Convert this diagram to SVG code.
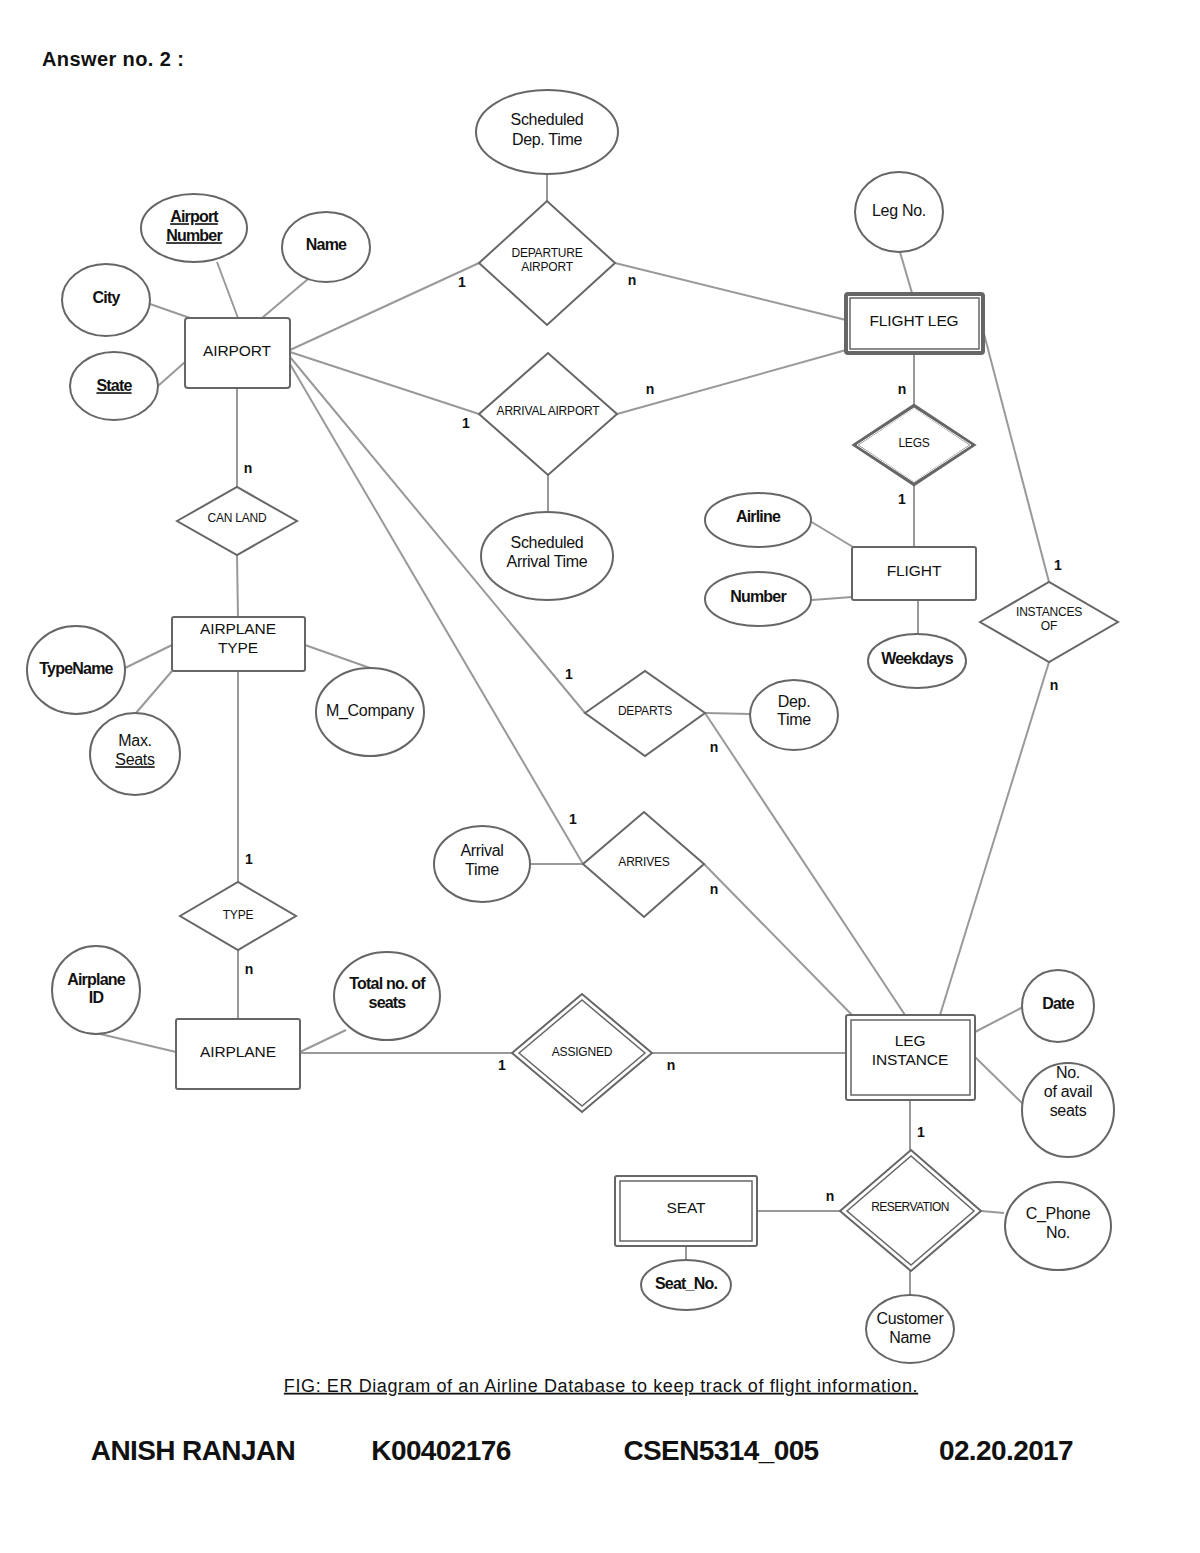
<svg xmlns="http://www.w3.org/2000/svg" width="1200" height="1553" viewBox="0 0 1200 1553">
<style>
.bg{fill:#fff}
.sh{fill:#fff;stroke:#666;stroke-width:2}
.thick{fill:#fff;stroke:#666;stroke-width:4}
.in{fill:none;stroke:#666;stroke-width:1.5}
.ln{stroke:#999;stroke-width:2;fill:none}
text{font-family:"Liberation Sans",Arial,sans-serif;fill:#111;text-anchor:middle;dominant-baseline:middle}
.e{font-size:16px;letter-spacing:-0.3px}
.eb{font-size:16px;font-weight:bold;letter-spacing:-0.8px}
.n{font-size:15.5px;letter-spacing:-0.1px}
.r{font-size:12px;letter-spacing:-0.2px}
.c{font-size:14px;font-weight:bold}
.u{text-decoration:underline}
.f{font-size:28px;font-weight:bold;letter-spacing:-0.6px}
</style>
<rect class="bg" x="0" y="0" width="1200" height="1553"/>
<text x="42" y="61" style="font-size:20px;font-weight:bold;text-anchor:start;letter-spacing:0.4px">Answer no. 2 :</text>

<g id="connectors">
<line class="ln" x1="217" y1="262" x2="238" y2="318"/>
<line class="ln" x1="308" y1="279" x2="262" y2="318"/>
<line class="ln" x1="150" y1="304" x2="190" y2="318"/>
<line class="ln" x1="158" y1="386" x2="185" y2="362"/>
<line class="ln" x1="547" y1="175" x2="547" y2="201"/>
<line class="ln" x1="290" y1="350" x2="479" y2="263"/>
<line class="ln" x1="615" y1="263" x2="846" y2="320"/>
<line class="ln" x1="290" y1="352" x2="479" y2="414"/>
<line class="ln" x1="617" y1="414" x2="846" y2="350"/>
<line class="ln" x1="548" y1="475" x2="548" y2="512"/>
<line class="ln" x1="900" y1="252" x2="912" y2="293"/>
<line class="ln" x1="914" y1="353" x2="914" y2="406"/>
<line class="ln" x1="914" y1="484" x2="914" y2="547"/>
<line class="ln" x1="810" y1="521" x2="853" y2="547"/>
<line class="ln" x1="812" y1="600" x2="852" y2="597"/>
<line class="ln" x1="918" y1="600" x2="918" y2="634"/>
<line class="ln" x1="983" y1="330" x2="1049" y2="582"/>
<line class="ln" x1="1049" y1="662" x2="940" y2="1015"/>
<line class="ln" x1="237" y1="388" x2="237" y2="487"/>
<line class="ln" x1="237" y1="555" x2="238" y2="617"/>
<line class="ln" x1="125" y1="668" x2="172" y2="645"/>
<line class="ln" x1="136" y1="713" x2="172" y2="671"/>
<line class="ln" x1="305" y1="645" x2="370" y2="668"/>
<line class="ln" x1="238" y1="671" x2="238" y2="882"/>
<line class="ln" x1="290" y1="357" x2="585" y2="713"/>
<line class="ln" x1="290" y1="364" x2="583" y2="864"/>
<line class="ln" x1="705" y1="713" x2="750" y2="714"/>
<line class="ln" x1="705" y1="713" x2="905" y2="1015"/>
<line class="ln" x1="530" y1="864" x2="583" y2="864"/>
<line class="ln" x1="704" y1="864" x2="852" y2="1015"/>
<line class="ln" x1="238" y1="950" x2="238" y2="1019"/>
<line class="ln" x1="96" y1="1033" x2="176" y2="1052"/>
<line class="ln" x1="300" y1="1052" x2="346" y2="1030"/>
<line class="ln" x1="300" y1="1053" x2="512" y2="1053"/>
<line class="ln" x1="652" y1="1053" x2="846" y2="1053"/>
<line class="ln" x1="975" y1="1032" x2="1023" y2="1007"/>
<line class="ln" x1="975" y1="1057" x2="1023" y2="1104"/>
<line class="ln" x1="910" y1="1100" x2="910" y2="1150"/>
<line class="ln" x1="757" y1="1211" x2="840" y2="1211"/>
<line class="ln" x1="981" y1="1211" x2="1004" y2="1213"/>
<line class="ln" x1="910" y1="1271" x2="910" y2="1296"/>
<line class="ln" x1="686" y1="1246" x2="686" y2="1260"/>
</g>

<g id="cardinalities">
<text class="c" x="462" y="283">1</text>
<text class="c" x="632" y="281">n</text>
<text class="c" x="466" y="424">1</text>
<text class="c" x="650" y="390">n</text>
<text class="c" x="902" y="390">n</text>
<text class="c" x="902" y="500">1</text>
<text class="c" x="1058" y="566">1</text>
<text class="c" x="1054" y="686">n</text>
<text class="c" x="248" y="469">n</text>
<text class="c" x="569" y="675">1</text>
<text class="c" x="714" y="748">n</text>
<text class="c" x="573" y="820">1</text>
<text class="c" x="714" y="890">n</text>
<text class="c" x="249" y="860">1</text>
<text class="c" x="249" y="970">n</text>
<text class="c" x="502" y="1066">1</text>
<text class="c" x="671" y="1066">n</text>
<text class="c" x="921" y="1133">1</text>
<text class="c" x="830" y="1197">n</text>
</g>

<g id="airport"><rect class="sh" x="185" y="318" width="105" height="70" rx="3"/><text class="n" x="237" y="352">AIRPORT</text></g>
<g id="airport-number"><ellipse class="sh" cx="194" cy="228" rx="53" ry="34"/><text class="eb u" x="194" y="218">Airport</text><text class="eb u" x="194" y="237">Number</text></g>
<g id="name"><ellipse class="sh" cx="326" cy="247" rx="44" ry="35"/><text class="eb" x="326" y="246">Name</text></g>
<g id="city"><ellipse class="sh" cx="106" cy="300" rx="44" ry="36"/><text class="eb" x="106" y="299">City</text></g>
<g id="state"><ellipse class="sh" cx="114" cy="386" rx="44" ry="34"/><text class="eb u" x="114" y="387">State</text></g>

<g id="sched-dep-time"><ellipse class="sh" cx="547" cy="132" rx="71" ry="42"/><text class="e" x="547" y="121">Scheduled</text><text class="e" x="547" y="141">Dep. Time</text></g>
<g id="departure-airport"><polygon class="sh" points="479,263 547,201 615,263 547,325"/><text class="r" x="547" y="254">DEPARTURE</text><text class="r" x="547" y="268">AIRPORT</text></g>
<g id="arrival-airport"><polygon class="sh" points="479,414 548,353 617,414 548,475"/><text class="r" x="548" y="412">ARRIVAL AIRPORT</text></g>
<g id="sched-arr-time"><ellipse class="sh" cx="547" cy="556" rx="66" ry="44"/><text class="e" x="547" y="544">Scheduled</text><text class="e" x="547" y="563">Arrival Time</text></g>

<g id="flight-leg"><rect class="thick" x="846" y="294" width="137" height="59" rx="2"/><rect class="in" x="850" y="298" width="129" height="51"/><text class="n" x="914" y="322">FLIGHT LEG</text></g>
<g id="leg-no"><ellipse class="sh" cx="899" cy="212" rx="44" ry="40"/><text class="e" x="899" y="212">Leg No.</text></g>
<g id="legs"><polygon class="thick" points="855,445 914,406 973,445 914,484"/><polygon class="in" style="stroke:#fff;stroke-width:1" points="857,445 914,408 971,445 914,482"/><text class="r" x="914" y="444">LEGS</text></g>
<g id="flight"><rect class="sh" x="852" y="547" width="124" height="53" rx="2"/><text class="n" x="914" y="572">FLIGHT</text></g>
<g id="airline"><ellipse class="sh" cx="758" cy="520" rx="53" ry="27"/><text class="eb" x="758" y="518">Airline</text></g>
<g id="number"><ellipse class="sh" cx="758" cy="599" rx="53" ry="27"/><text class="eb" x="758" y="598">Number</text></g>
<g id="weekdays"><ellipse class="sh" cx="917" cy="661" rx="49" ry="27"/><text class="eb" x="917" y="660">Weekdays</text></g>
<g id="instances-of"><polygon class="sh" points="980,622 1049,582 1118,622 1049,662"/><text class="r" x="1049" y="613">INSTANCES</text><text class="r" x="1049" y="627">OF</text></g>

<g id="can-land"><polygon class="sh" points="177,521 237,487 297,521 237,555"/><text class="r" x="237" y="519">CAN LAND</text></g>
<g id="airplane-type"><rect class="sh" x="172" y="617" width="133" height="54" rx="2"/><text class="n" x="238" y="630">AIRPLANE</text><text class="n" x="238" y="649">TYPE</text></g>
<g id="typename"><ellipse class="sh" cx="76" cy="670" rx="49" ry="44"/><text class="eb" x="76" y="670">TypeName</text></g>
<g id="max-seats"><ellipse class="sh" cx="135" cy="754" rx="45" ry="41"/><text class="e" x="135" y="742">Max.</text><text class="e u" x="135" y="761">Seats</text></g>
<g id="m-company"><ellipse class="sh" cx="370" cy="712" rx="54" ry="44"/><text class="e" x="370" y="712">M_Company</text></g>

<g id="departs"><polygon class="sh" points="585,713 645,671 705,713 645,756"/><text class="r" x="645" y="712">DEPARTS</text></g>
<g id="dep-time"><ellipse class="sh" cx="794" cy="715" rx="44" ry="35"/><text class="e" x="794" y="703">Dep.</text><text class="e" x="794" y="721">Time</text></g>
<g id="arrives"><polygon class="sh" points="583,864 644,812 704,864 644,917"/><text class="r" x="644" y="863">ARRIVES</text></g>
<g id="arrival-time"><ellipse class="sh" cx="482" cy="864" rx="48" ry="38"/><text class="e" x="482" y="852">Arrival</text><text class="e" x="482" y="871">Time</text></g>

<g id="type"><polygon class="sh" points="180,916 238,882 296,916 238,950"/><text class="r" x="238" y="916">TYPE</text></g>
<g id="airplane"><rect class="sh" x="176" y="1019" width="124" height="70" rx="2"/><text class="n" x="238" y="1053">AIRPLANE</text></g>
<g id="airplane-id"><ellipse class="sh" cx="96" cy="990" rx="44" ry="44"/><text class="eb" x="96" y="981">Airplane</text><text class="eb" x="96" y="999">ID</text></g>
<g id="total-seats"><ellipse class="sh" cx="387" cy="996" rx="53" ry="44"/><text class="eb" x="387" y="985">Total no. of</text><text class="eb" x="387" y="1004">seats</text></g>
<g id="assigned"><polygon class="sh" points="512,1053 582,994 652,1053 582,1112"/><polygon class="in" points="519,1053 582,1000 645,1053 582,1106"/><text class="r" x="582" y="1053">ASSIGNED</text></g>

<g id="leg-instance"><rect class="sh" x="846" y="1015" width="129" height="85" rx="2"/><rect class="in" x="851" y="1020" width="119" height="75"/><text class="n" x="910" y="1042">LEG</text><text class="n" x="910" y="1061">INSTANCE</text></g>
<g id="date"><ellipse class="sh" cx="1058" cy="1006" rx="36" ry="36"/><text class="eb" x="1058" y="1005">Date</text></g>
<g id="avail-seats"><ellipse class="sh" cx="1068" cy="1110" rx="46" ry="47"/><text class="e" x="1068" y="1074">No.</text><text class="e" x="1068" y="1093">of avail</text><text class="e" x="1068" y="1112">seats</text></g>
<g id="reservation"><polygon class="sh" points="840,1211 911,1150 981,1211 911,1271"/><polygon class="in" points="847,1211 911,1156 974,1211 911,1265"/><text class="r" x="910" y="1208" style="letter-spacing:-0.6px">RESERVATION</text></g>
<g id="seat"><rect class="sh" x="615" y="1176" width="142" height="70" rx="2"/><rect class="in" x="620" y="1181" width="132" height="60"/><text class="n" x="686" y="1209">SEAT</text></g>
<g id="seat-no"><ellipse class="sh" cx="686" cy="1285" rx="45" ry="25"/><text class="eb" x="686" y="1285">Seat_No.</text></g>
<g id="c-phone"><ellipse class="sh" cx="1058" cy="1226" rx="53" ry="44"/><text class="e" x="1058" y="1215">C_Phone</text><text class="e" x="1058" y="1234">No.</text></g>
<g id="customer-name"><ellipse class="sh" cx="910" cy="1329" rx="44" ry="34"/><text class="e" x="910" y="1320">Customer</text><text class="e" x="910" y="1339">Name</text></g>

<text class="u" x="601" y="1387" style="font-size:18px;letter-spacing:0.6px">FIG: ER Diagram of an Airline Database to keep track of flight information.</text>
<text class="f" x="193" y="1453">ANISH RANJAN</text>
<text class="f" x="441" y="1453">K00402176</text>
<text class="f" x="721" y="1453">CSEN5314_005</text>
<text class="f" x="1006" y="1453">02.20.2017</text>
</svg>
